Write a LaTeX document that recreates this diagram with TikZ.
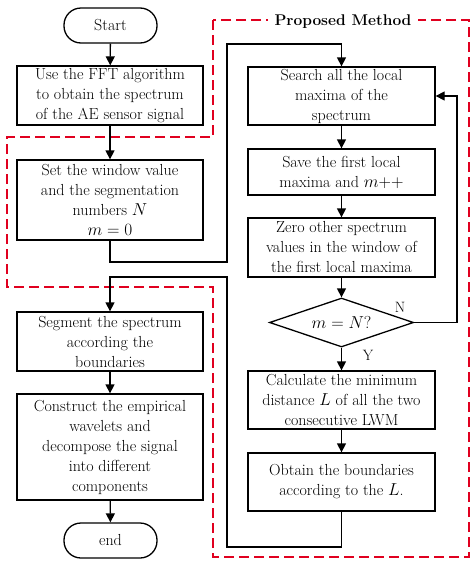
\documentclass[tikz,border=0pt]{standalone}
\usetikzlibrary{shapes.geometric,arrows.meta}
\begin{document}
\begin{tikzpicture}[x=1pt,y=-1pt,
  every node/.style={font=\fontsize{16}{20}\selectfont},
  box/.style={draw,line width=1.3pt,rectangle,align=center,inner sep=0pt,minimum width=#1},
  box/.default=186pt,
  term/.style={draw,line width=1.3pt,rounded corners=17pt,minimum width=93pt,minimum height=35pt,inner sep=0pt},
  dia/.style={draw,line width=1.3pt,diamond,aspect=2.94,minimum width=144pt,minimum height=49pt,inner sep=0pt},
  arr/.style={line width=1.3pt,-{Triangle[length=9pt,width=9pt]}},
  reddash/.style={draw=red!88!blue,line width=1.4pt,dash pattern=on 10pt off 5pt},
  lbl/.style={font=\fontsize{15}{17}\selectfont,inner sep=1pt}]
\useasboundingbox (0,0) rectangle (474,568);
% red dashed region
\draw[reddash] (213,20) -- (213,137) -- (7,137) -- (7,287) -- (213,287) -- (213,557) -- (469,557) -- (469,20) -- cycle;
\node[fill=white,font=\fontsize{15.5}{17}\selectfont\bfseries,inner xsep=7pt,inner ysep=4pt] (title) at (343,22) {Proposed Method};
% left column
\node[term] (start) at (110.5,25.5) {Start};
\node[box,minimum height=59pt] (b1) at (110,95.5) {Use the FFT algorithm\\to obtain the spectrum\\of the AE sensor signal};
\node[box,minimum height=80pt] (b2) at (110,200) {Set the window value\\and the segmentation\\numbers $N$\\$m=0$};
\node[box,minimum height=59pt] (bf) at (110,341.5) {Segment the spectrum\\according the\\boundaries};
\node[box,minimum height=106pt] (bg) at (110,447) {Construct the empirical\\wavelets and\\decompose the signal\\into different\\components};
\node[term] (end) at (110.5,540.5) {end};
% right column
\node[box=187pt,minimum height=58pt] (ba) at (341.5,96) {Search all the local\\maxima of the\\spectrum};
\node[box=187pt,minimum height=46pt] (bb) at (341.5,172) {Save the first local\\maxima and $m{+}{+}$};
\node[box=187pt,minimum height=59pt] (bc) at (341.5,247.5) {Zero other spectrum\\values in the window of\\the first local maxima};
\node[dia] (d) at (341.5,322.5) {$m=N?$};
\node[box=187pt,minimum height=58pt] (bd) at (341.5,400) {Calculate the minimum\\distance $L$ of all the two\\consecutive LWM};
\node[box=187pt,minimum height=58pt] (be) at (341.5,482) {Obtain the boundaries\\according to the $L$.};
% labels
\node[lbl] (ln) at (400,307) {N};
\node[lbl] (ly) at (368,355) {Y};
% coordinates
\coordinate (j1) at (227,262);
\coordinate (j2) at (227,44);
\coordinate (j3) at (457,322.5);
\coordinate (j4) at (227,547);
\coordinate (j5) at (227,277);
% connectors
\draw[arr] (start) -- (b1);
\draw[arr] (b1) -- (b2);
\draw[arr] (b2.south) |- (j1) -- (j2) -| (ba.north);
\draw[arr] (ba) -- (bb);
\draw[arr] (bb) -- (bc);
\draw[arr] (bc) -- (d);
\draw[arr] (d.east) -- (j3) |- (ba.east);
\draw[arr] (d) -- (bd);
\draw[arr] (bd) -- (be);
\draw[arr] (be.south) |- (j4) -- (j5) -| (bf.north);
\draw[arr] (bf) -- (bg);
\draw[arr] (bg) -- (end);
\end{tikzpicture}
\end{document}
